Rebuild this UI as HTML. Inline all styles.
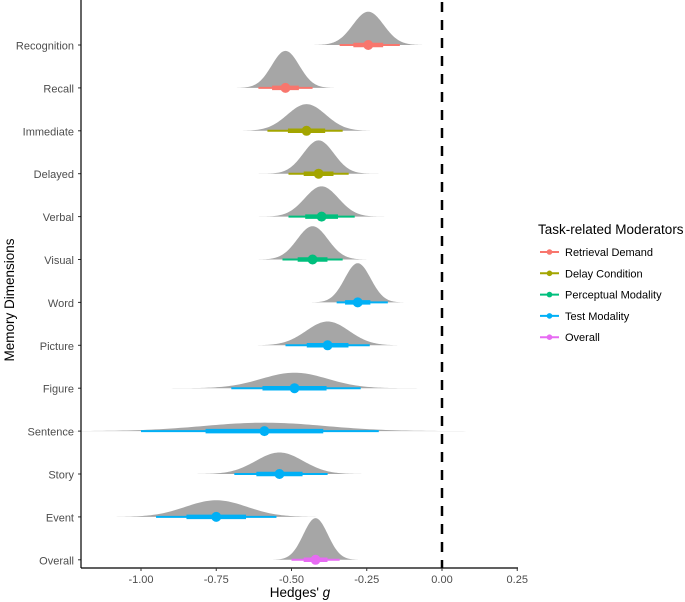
<!DOCTYPE html>
<html><head><meta charset="utf-8"><style>
body{margin:0;background:#fff}
svg{display:block;font-family:"Liberation Sans",Arial,sans-serif}
</style></head><body>
<svg id="chart" width="685" height="602" viewBox="0 0 685 602">
<g id="ridges"></g>
<g id="axes"></g>
</svg>
<script>
const categories=["Recognition","Recall","Immediate","Delayed","Verbal","Visual","Word","Picture","Figure","Sentence","Story","Event","Overall"];
const groups=[0,0,1,1,2,2,3,3,3,3,3,3,4];
const means=[-0.245,-0.52,-0.45,-0.41,-0.40,-0.43,-0.28,-0.38,-0.49,-0.59,-0.54,-0.75,-0.42];
const lower95=[-0.34,-0.61,-0.58,-0.51,-0.51,-0.53,-0.35,-0.52,-0.70,-1.00,-0.69,-0.95,-0.50];
const upper95=[-0.14,-0.43,-0.33,-0.31,-0.29,-0.33,-0.18,-0.24,-0.27,-0.21,-0.38,-0.55,-0.34];
const xTicks=[-1.00,-0.75,-0.50,-0.25,0.00,0.25];
const legendLabels=["Retrieval Demand","Delay Condition","Perceptual Modality","Test Modality","Overall"];
const colors=["#F8766D","#A3A500","#00BF7D","#00B0F6","#E76BF3"];

const NS="http://www.w3.org/2000/svg";
const x=v=>442+v*301;
const y=i=>45+i*42.9;
function mk(tag,attrs,parent){const e=document.createElementNS(NS,tag);for(const k in attrs)e.setAttribute(k,attrs[k]);parent.appendChild(e);return e;}
const R=document.getElementById('ridges'),A=document.getElementById('axes');

categories.forEach((c,i)=>{
  const m=means[i],sd=(upper95[i]-lower95[i])/3.92,by=y(i);
  const g=mk('g',{},R);
  
  
  let d='';const lo=m-4*sd,hi=m+4*sd;
  for(let k=0;k<=120;k++){const v=lo+(hi-lo)*k/120;const dens=Math.exp(-0.5*((v-m)/sd)**2)/(sd*2.5066);const h=dens*4.26;d+=(k?'L':'M')+x(v).toFixed(2)+','+(by-h).toFixed(2);}
  d+='Z';
  const p=mk('path',{d:d,fill:'#a6a6a6'},g);
  
  
  const col=colors[groups[i]];
  const l1=mk('line',{x1:x(lower95[i]),x2:x(upper95[i]),y1:by,y2:by,stroke:col,'stroke-width':2},g);
  
  
  const l2=mk('line',{x1:x(m-0.97*sd),x2:x(m+0.97*sd),y1:by,y2:by,stroke:col,'stroke-width':4.5},g);
  
  
  const pt=mk('circle',{cx:x(m),cy:by,r:5,fill:col},g);
  
  
  const t=mk('text',{x:74,y:by+4.5,'text-anchor':'end','font-size':11,fill:'#4d4d4d'},A);
  t.textContent=c;
  
  
  mk('line',{x1:78,x2:81,y1:by,y2:by,stroke:'#333','stroke-width':1},A);
});
const zl=mk('line',{x1:x(0),x2:x(0),y1:2,y2:568,stroke:'#000','stroke-width':2.5,'stroke-dasharray':'10,8'},A);


const ya=mk('line',{x1:81,x2:81,y1:0,y2:568,stroke:'#000','stroke-width':1.2},A);


const xa=mk('line',{x1:81,x2:518,y1:568,y2:568,stroke:'#000','stroke-width':1.2},A);


xTicks.forEach(v=>{
  mk('line',{x1:x(v),x2:x(v),y1:568,y2:571,stroke:'#333'},A);
  const t=mk('text',{x:x(v),y:583,'text-anchor':'middle','font-size':11,fill:'#4d4d4d'},A);
  t.textContent=v.toFixed(2);
  
  
});
const xt=mk('text',{x:300,y:597,'text-anchor':'middle','font-size':13.5,fill:'#000'},A);
xt.innerHTML='Hedges\' <tspan font-style="italic">g</tspan>';


const yt=mk('text',{x:0,y:0,transform:'translate(14,300) rotate(-90)','text-anchor':'middle','font-size':13.5,fill:'#000'},A);
yt.textContent='Memory Dimensions';


const lg=mk('g',{},A);


const lt=mk('text',{x:538,y:234,'font-size':13.5,fill:'#000'},lg);
lt.textContent='Task-related Moderators';


legendLabels.forEach((s,k)=>{
  const ly=252+k*21.3;
  const e=mk('g',{},lg);
  
  
  mk('line',{x1:540,x2:559,y1:ly,y2:ly,stroke:colors[k],'stroke-width':2},e);
  mk('circle',{cx:549.5,cy:ly,r:2.8,fill:colors[k]},e);
  const t=mk('text',{x:565,y:ly+4,'font-size':11,fill:'#000'},e);
  t.textContent=s;
});
</script>
</body></html>
